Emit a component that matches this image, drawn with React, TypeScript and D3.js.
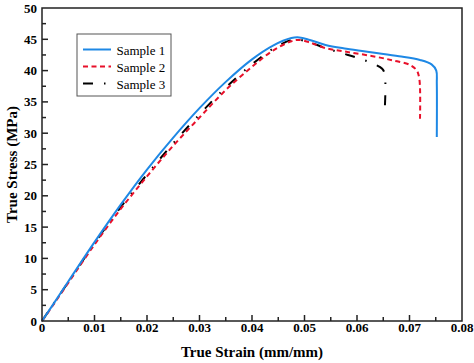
import { useEffect, useRef } from 'react';
import * as d3 from 'd3';

// strain (mm/mm) and true stress (MPa)
const sample1Strain = [0, 0.002, 0.005, 0.01, 0.015, 0.02, 0.025, 0.03, 0.035, 0.04, 0.044, 0.0475, 0.049, 0.051, 0.054, 0.058, 0.063, 0.068, 0.072, 0.0742, 0.0751, 0.0752, 0.0752];
const sample1Stress = [0, 2.5, 6.3, 12.6, 18.6, 24.2, 29.3, 34.0, 38.2, 41.8, 44.0, 45.2, 45.3, 44.9, 44.1, 43.5, 42.9, 42.3, 41.7, 41.0, 40.0, 38.0, 29.4];

const sample2Strain = [0, 0.002, 0.005, 0.01, 0.015, 0.02, 0.025, 0.03, 0.035, 0.04, 0.044, 0.0475, 0.049, 0.051, 0.054, 0.058, 0.063, 0.067, 0.0701, 0.0714, 0.0719, 0.072];
const sample2Stress = [0, 2.4, 6.1, 12.2, 17.9, 23.1, 28.0, 32.5, 36.9, 40.6, 43.2, 44.7, 44.9, 44.5, 43.6, 43.0, 42.3, 41.6, 40.9, 40.0, 38.5, 32.3];

const sample3Strain = [0, 0.002, 0.005, 0.01, 0.015, 0.02, 0.025, 0.03, 0.035, 0.04, 0.044, 0.0475, 0.0485, 0.051, 0.054, 0.0571, 0.0602, 0.0631, 0.0648, 0.0653, 0.0653];
const sample3Stress = [0, 2.5, 6.2, 12.4, 18.2, 23.4, 28.4, 33.0, 37.3, 41.0, 43.5, 44.9, 45.0, 44.5, 43.6, 42.8, 42.0, 41.1, 40.3, 39.3, 34.0];

const seriesNames = ['Sample 1', 'Sample 2', 'Sample 3'];
const xTicks = [0, 0.01, 0.02, 0.03, 0.04, 0.05, 0.06, 0.07, 0.08];
const yTicks = [0, 5, 10, 15, 20, 25, 30, 35, 40, 45, 50];

const font = 'Liberation Serif, Times New Roman, serif';

export default function App() {
  const svgRef = useRef<SVGSVGElement>(null);

  useEffect(() => {
    if (!svgRef.current) return;
    const svg = d3.select(svgRef.current);
    svg.selectAll('*').remove();

    const left = 42, right = 462, top = 8, bottom = 321;
    const x = d3.scaleLinear().domain([0, 0.08]).range([left, right]);
    const y = d3.scaleLinear().domain([0, 50]).range([bottom, top]);

    const series = [
      { name: seriesNames[0], xs: sample1Strain, ys: sample1Stress, color: '#1e88e5', dash: null, width: 2 },
      { name: seriesNames[1], xs: sample2Strain, ys: sample2Stress, color: '#e8102a', dash: '5,3.5', width: 2 },
      { name: seriesNames[2], xs: sample3Strain, ys: sample3Stress, color: '#000000', dash: '10,11,1.5,11', width: 2 },
    ];

    const line = d3.line<[number, number]>()
      .x(d => x(d[0]))
      .y(d => y(d[1]))
      .curve(d3.curveCatmullRom.alpha(0.5));

    // curves (sample 1 drawn last so it sits on top)
    [series[2], series[1], series[0]].forEach(s => {
      const pts = s.xs.map((v, i) => [v, s.ys[i]] as [number, number]);
      svg.append('path')
        .attr('d', line(pts))
        .attr('fill', 'none')
        .attr('stroke', s.color)
        .attr('stroke-width', s.width)
        .attr('stroke-dasharray', s.dash)
        .attr('stroke-linejoin', 'round');
    });

    // frame
    svg.append('rect')
      .attr('x', left).attr('y', top)
      .attr('width', right - left).attr('height', bottom - top)
      .attr('fill', 'none').attr('stroke', '#222').attr('stroke-width', 1.5);

    // x ticks (inward) with minor ticks
    const xMinor = d3.range(0.005, 0.08, 0.01);
    svg.selectAll('.xmaj').data(xTicks.slice(1, -1)).enter().append('line')
      .attr('x1', d => x(d)).attr('x2', d => x(d))
      .attr('y1', bottom).attr('y2', bottom - 6)
      .attr('stroke', '#222').attr('stroke-width', 1.5);
    svg.selectAll('.xmin').data(xMinor).enter().append('line')
      .attr('x1', d => x(d)).attr('x2', d => x(d))
      .attr('y1', bottom).attr('y2', bottom - 4)
      .attr('stroke', '#222').attr('stroke-width', 1.5);
    svg.selectAll('.xlab').data(xTicks).enter().append('text')
      .attr('x', d => x(d)).attr('y', bottom + 11)
      .attr('text-anchor', 'middle')
      .attr('font-family', font).attr('font-size', 13).attr('font-weight', 'bold')
      .text(d => (d === 0 ? '0' : d.toFixed(2)));

    // y ticks
    const yMinor = d3.range(2.5, 50, 5);
    svg.selectAll('.ymaj').data(yTicks.slice(1, -1)).enter().append('line')
      .attr('x1', left).attr('x2', left + 6)
      .attr('y1', d => y(d)).attr('y2', d => y(d))
      .attr('stroke', '#222').attr('stroke-width', 1.5);
    svg.selectAll('.ymin').data(yMinor).enter().append('line')
      .attr('x1', left).attr('x2', left + 4)
      .attr('y1', d => y(d)).attr('y2', d => y(d))
      .attr('stroke', '#222').attr('stroke-width', 1.5);
    svg.selectAll('.ylab').data(yTicks).enter().append('text')
      .attr('x', left - 5).attr('y', d => y(d) + 4.5)
      .attr('text-anchor', 'end')
      .attr('font-family', font).attr('font-size', 13).attr('font-weight', 'bold')
      .text(d => String(d));

    // axis titles
    svg.append('text')
      .attr('x', (left + right) / 2).attr('y', 357)
      .attr('text-anchor', 'middle')
      .attr('font-family', font).attr('font-size', 15).attr('font-weight', 'bold')
      .text('True Strain (mm/mm)');
    svg.append('text')
      .attr('transform', `translate(17, ${(top + bottom) / 2}) rotate(-90)`)
      .attr('text-anchor', 'middle')
      .attr('font-family', font).attr('font-size', 15).attr('font-weight', 'bold')
      .text('True Stress (MPa)');

    // legend
    const lg = svg.append('g');
    lg.append('rect')
      .attr('x', 77).attr('y', 34).attr('width', 94).attr('height', 62)
      .attr('fill', 'white').attr('stroke', '#555').attr('stroke-width', 1);
    series.forEach((s, i) => {
      const ly = 49.5 + i * 17;
      lg.append('line')
        .attr('x1', 83).attr('x2', 111).attr('y1', ly).attr('y2', ly)
        .attr('stroke', s.color).attr('stroke-width', s.width)
        .attr('stroke-dasharray', s.dash);
      lg.append('text')
        .attr('x', 116.5).attr('y', ly + 5)
        .attr('font-family', font).attr('font-size', 13)
        .text(s.name);
    });
  }, []);

  return (
    <svg ref={svgRef} width={474} height={363}
      style={{ position: 'absolute', left: 0, top: 0, background: 'white' }} />
  );
}
